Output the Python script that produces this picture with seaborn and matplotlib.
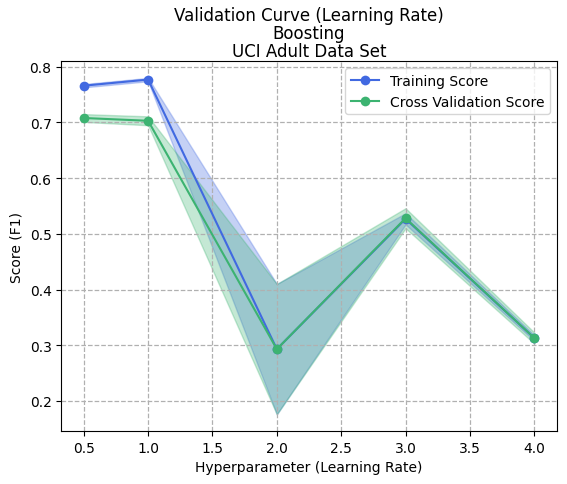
import numpy as np
import pandas as pd
import matplotlib
matplotlib.use('Agg')
import matplotlib.pyplot as plt
import seaborn as sns

# values
learning_rate = [0.5, 1.0, 2.0, 3.0, 4.0]
train_mean = [0.766, 0.777, 0.293, 0.527, 0.313]
train_std = [0.003, 0.003, 0.117, 0.010, 0.005]
cv_mean = [0.708, 0.703, 0.293, 0.528, 0.313]
cv_std = [0.007, 0.008, 0.117, 0.018, 0.010]

df = pd.DataFrame({
    'Hyperparameter (Learning Rate)': learning_rate * 2,
    'Score (F1)': train_mean + cv_mean,
    'series': ['Training Score'] * 5 + ['Cross Validation Score'] * 5,
})

plt.rcParams['font.family'] = ['DejaVu Sans']

fig, ax = plt.subplots(figsize=(5.67, 4.85), dpi=100)
fig.subplots_adjust(left=0.108, right=0.982, top=0.872, bottom=0.109)

colors = {'Training Score': 'royalblue', 'Cross Validation Score': 'mediumseagreen'}

ax.fill_between(learning_rate, np.array(train_mean) - np.array(train_std),
                np.array(train_mean) + np.array(train_std), color='royalblue', alpha=0.3)
ax.fill_between(learning_rate, np.array(cv_mean) - np.array(cv_std),
                np.array(cv_mean) + np.array(cv_std), color='mediumseagreen', alpha=0.3)

sns.lineplot(data=df, x='Hyperparameter (Learning Rate)', y='Score (F1)', hue='series',
             palette=colors, marker='o', markersize=7, markeredgewidth=0, linewidth=1.5, ax=ax)

ax.grid(True, linestyle='--', color='#b0b0b0', linewidth=0.9)
ax.set_title('Validation Curve (Learning Rate)\nBoosting\nUCI Adult Data Set',
             linespacing=0.97, pad=4)
ax.legend(title=None, loc='upper right')

plt.savefig('out.png', dpi=100)
